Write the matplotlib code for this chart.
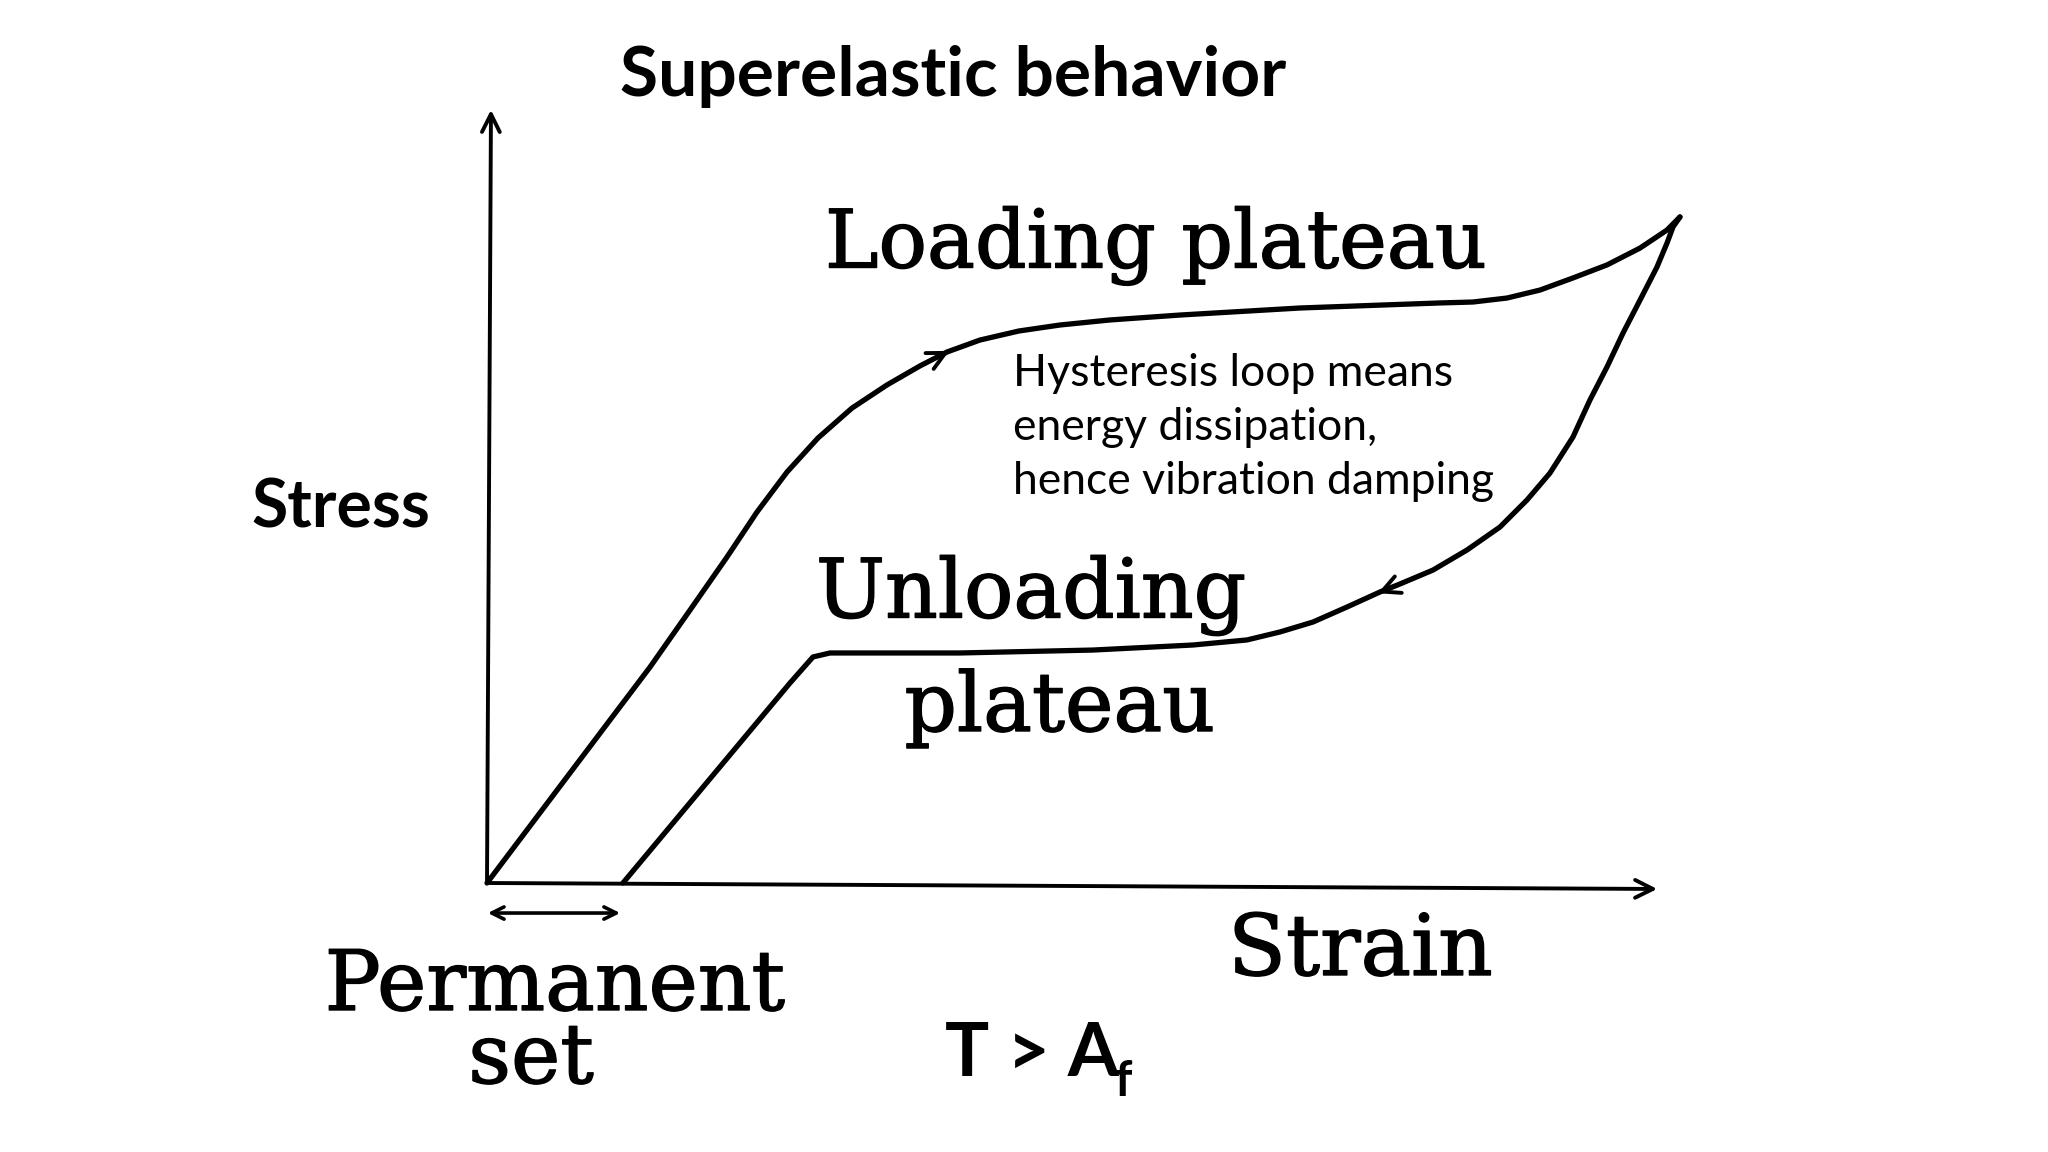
import matplotlib.pyplot as plt
import matplotlib.patheffects as pe

# stress-strain loop of a superelastic alloy (schematic, arbitrary units)
load_strain = [0.000, 1.049, 1.390, 1.731, 2.046, 2.302, 2.558, 2.822, 3.112, 3.410, 3.691,
               3.922, 4.203, 4.535, 4.885, 5.311, 5.908, 6.931, 8.124, 8.406, 8.696, 8.977,
               9.258, 9.548, 9.830, 10.060, 10.170]
load_stress = [0.000, 1.390, 1.841, 2.327, 2.779, 3.163, 3.504, 3.794, 4.049, 4.246, 4.408,
               4.527, 4.629, 4.706, 4.757, 4.800, 4.842, 4.902, 4.945, 4.953, 4.987, 5.055,
               5.158, 5.269, 5.413, 5.567, 5.678]

unload_strain = [10.170, 10.111, 10.060, 9.974, 9.830, 9.685, 9.548, 9.403, 9.258, 9.062,
                 8.866, 8.636, 8.355, 8.065, 7.783, 7.613, 7.332, 7.042, 6.760, 6.479,
                 6.019, 5.166, 4.032, 2.924, 2.779, 2.583, 1.159]
unload_stress = [5.678, 5.593, 5.456, 5.251, 4.970, 4.689, 4.399, 4.118, 3.802, 3.495,
                 3.265, 3.035, 2.839, 2.668, 2.549, 2.481, 2.353, 2.225, 2.140, 2.072,
                 2.029, 1.986, 1.961, 1.961, 1.927, 1.705, 0.000]

permanent_set = 1.159
strain_axis_end = 10.0
stress_axis_end = 6.615

W, H = 2048, 1152
U = 117.3          # pixels per unit
X0, Y0 = 487, 883  # origin in pixels

fig = plt.figure(figsize=(W / 100, H / 100), dpi=100)
ax = fig.add_axes([0, 0, 1, 1])
ax.set_xlim(-X0 / U, (W - X0) / U)
ax.set_ylim(-(H - Y0) / U, Y0 / U)
ax.axis('off')

lw = 3.8
ax.plot(load_strain, load_stress, color='black', lw=lw, solid_capstyle='round', solid_joinstyle='round')
ax.plot(unload_strain, unload_stress, color='black', lw=lw, solid_capstyle='round', solid_joinstyle='round')

# axes arrows
arr = dict(arrowstyle='->', lw=2.8, color='black', mutation_scale=32)
ax.annotate('', xy=(0.034, stress_axis_end), xytext=(0, 0), arrowprops=arr)
ax.annotate('', xy=(strain_axis_end, -0.051), xytext=(0, 0), arrowprops=arr)
# permanent set
ax.annotate('', xy=(permanent_set, -0.256), xytext=(-0.017, -0.256),
            arrowprops=dict(arrowstyle='<->', lw=2.6, color='black', mutation_scale=22))

# direction arrows on the curves
ax.annotate('', xy=(load_strain[11] + 0.04, load_stress[11] + 0.02),
            xytext=(load_strain[10], load_stress[10]), arrowprops=arr)
ax.annotate('', xy=(unload_strain[15] - 0.04, unload_stress[15] - 0.02),
            xytext=(unload_strain[13], unload_stress[13]), arrowprops=arr)

serif = 'DejaVu Serif'
sans = 'Lato'
thick = [pe.withStroke(linewidth=1.0, foreground='black')]


def ft(x, y, s, **kw):
    fig.text(x / W, 1 - y / H, s, **kw)


ft(620, 76, 'Superelastic behavior', family=sans, weight='bold', fontsize=50, va='center')
ft(251, 509, 'Stress', family=sans, weight='bold', fontsize=47.5, va='center')
ft(825, 246, 'Loading plateau', family=serif, fontsize=58, va='center', path_effects=thick)
ft(816, 595, 'Unloading', family=serif, fontsize=59, va='center', path_effects=thick)
ft(1060, 708, 'plateau', family=serif, fontsize=59, va='center', ha='center', path_effects=thick)
ft(1228, 952, 'Strain', family=serif, fontsize=61, va='center', path_effects=thick)
ft(555, 987, 'Permanent', family=serif, fontsize=60, va='center', ha='center', path_effects=thick)
ft(531, 1060, 'set', family=serif, fontsize=60, va='center', ha='center', path_effects=thick)
ft(1013, 374, 'Hysteresis loop means', family=sans, fontsize=32, va='center')
ft(1013, 427, 'energy dissipation,', family=sans, fontsize=32, va='center')
ft(1013, 481, 'hence vibration damping', family=sans, fontsize=32, va='center')
ft(945, 1055, 'T > A', family=sans, weight='bold', fontsize=53, va='center')
ft(1115, 1082, 'f', family=sans, weight='bold', fontsize=35, va='center')

fig.savefig('out.png', dpi=100, facecolor='white')
